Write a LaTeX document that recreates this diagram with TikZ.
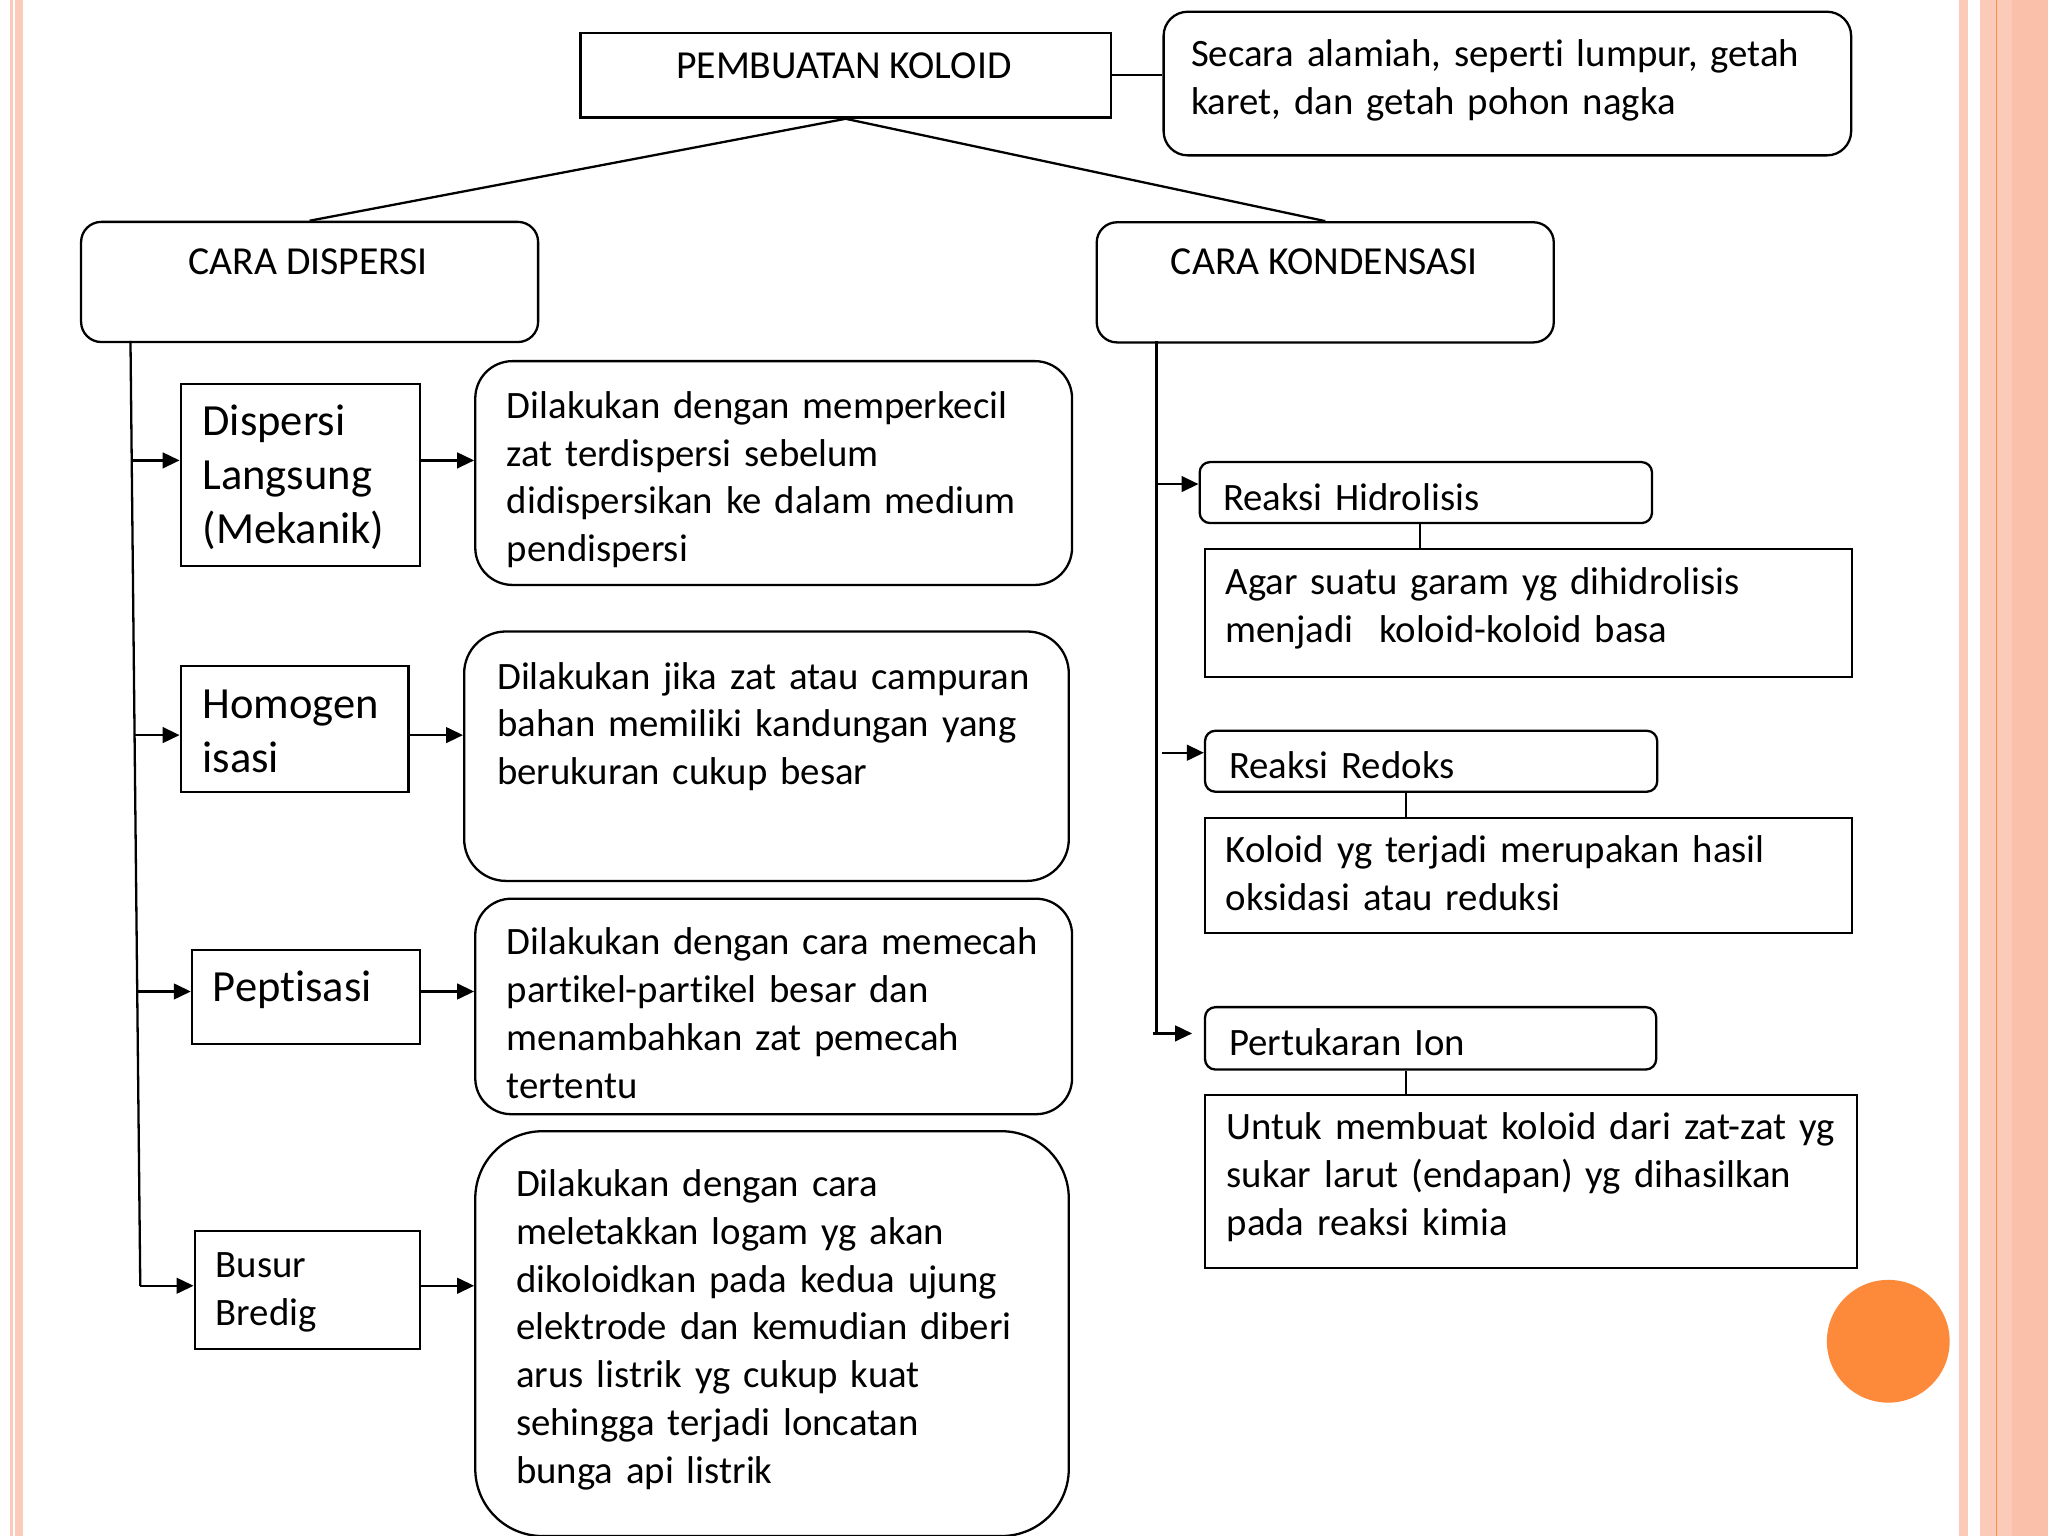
\documentclass[tikz,border=0pt]{standalone}
\usepackage{fontspec}
\setmainfont{Carlito}[Ligatures={NoCommon}]
\usetikzlibrary{arrows.meta}
\definecolor{salmon}{RGB}{252,202,184}
\definecolor{salmondark}{RGB}{250,192,170}
\definecolor{stripeline}{RGB}{245,145,70}
\definecolor{dot}{RGB}{252,138,58}
\tikzset{
	box/.style={draw, line width=1pt, inner sep=0pt, anchor=north west},
	rbox/.style={box, rounded corners=#1},
	txt/.style={anchor=base west, inner sep=0pt, align=left, text width=12cm, font=\fontsize{16.9pt}{20.8pt}\selectfont},
	bigtxt/.style={txt, font=\fontsize{19.4pt}{23.6pt}\selectfont},
	headtxt/.style={anchor=base, inner sep=0pt, font=\fontsize{17.3pt}{20.8pt}\selectfont},
	link/.style={line width=1pt},
	arr/.style={link, -{Triangle[length=0.26cm,width=0.24cm]}},
}
\begin{document}
\begin{tikzpicture}[x=0.02cm, y=-0.02cm]
	\useasboundingbox (0,0) rectangle (1568,1176);
	\fill[white] (0,0) rectangle (1568,1176);
	\fill[salmon] (7.5,0) rectangle (17.5,1176);
	\fill[white] (10,0) rectangle (11.2,1176);
	\fill[salmon] (1499.7,0) rectangle (1506.6,1176);
	\fill[salmon] (1516.2,0) rectangle (1568,1176);
	\fill[salmondark] (1540.5,0) rectangle (1568,1176);
	\fill[stripeline] (1527.8,0) rectangle (1529.2,1176);
	\fill[dot] (1445.7,1026.9) circle (47);

	\node[box, minimum width=8.12cm, minimum height=1.30cm] (title) at (443.6,24.2) {};
	\node[rbox=0.37cm, minimum width=10.53cm, minimum height=2.20cm] (alam) at (890,8.1) {};
	\node[rbox=0.31cm, minimum width=7.00cm, minimum height=1.84cm] (disp) at (61.2,169) {};
	\node[rbox=0.31cm, minimum width=7.00cm, minimum height=1.84cm] (kond) at (838.8,169.3) {};

	\node[box, minimum width=3.664cm, minimum height=2.788cm] (langsung) at (137.5,293.3) {};
	\node[rbox=0.57cm, minimum width=9.14cm, minimum height=3.428cm] (desc1) at (363,275.6) {};
	\node[box, minimum width=3.49cm, minimum height=1.934cm] (homogen) at (137.5,508.8) {};
	\node[rbox=0.64cm, minimum width=9.26cm, minimum height=3.82cm] (desc2) at (354.5,482.6) {};
	\node[box, minimum width=3.49cm, minimum height=1.438cm] (peptisasi) at (146.1,726.4) {};
	\node[rbox=0.55cm, minimum width=9.14cm, minimum height=3.30cm] (desc3) at (363,687.2) {};
	\node[box, minimum width=3.448cm, minimum height=1.804cm] (bredig) at (148.2,941.7) {};
	\node[rbox=1.03cm, minimum width=9.09cm, minimum height=6.20cm] (desc4) at (363,865.2) {};

	\node[rbox=0.16cm, minimum width=6.928cm, minimum height=0.934cm] (hidro) at (917.6,352.9) {};
	\node[box, minimum width=9.906cm, minimum height=1.954cm] (hidrodesc) at (921.7,419.5) {};
	\node[rbox=0.16cm, minimum width=6.926cm, minimum height=0.934cm] (redoks) at (921.7,558.6) {};
	\node[box, minimum width=9.906cm, minimum height=1.762cm] (redoksdesc) at (921.7,625.2) {};
	\node[rbox=0.16cm, minimum width=6.91cm, minimum height=0.956cm] (ion) at (921.7,770.2) {};
	\node[box, minimum width=9.988cm, minimum height=2.644cm] (iondesc) at (921.7,837.6) {};

	\node[headtxt] (titletxt) at (646,60.4) {PEMBUATAN KOLOID};
	\node[txt] (alamtxt) at (911.5,51) {Secara alamiah, seperti lumpur, getah\\karet, dan getah pohon nagka};
	\node[headtxt] (disptxt) at (236,210.5) {CARA DISPERSI};
	\node[headtxt] (kondtxt) at (1014,210.5) {CARA KONDENSASI};

	\node[bigtxt] (langsungtxt) at (154.7,333.5) {Dispersi\\Langsung\\(Mekanik)};
	\node[txt] (desc1txt) at (387.8,320.3) {Dilakukan dengan memperkecil\\zat terdispersi sebelum\\didispersikan ke dalam medium\\pendispersi};
	\node[bigtxt] (homogentxt) at (154.7,549.9) {Homogen\\isasi};
	\node[txt] (desc2txt) at (380.3,527.7) {Dilakukan jika zat atau campuran\\bahan memiliki kandungan yang\\berukuran cukup besar};
	\node[bigtxt] (peptisasitxt) at (162.7,767) {Peptisasi};
	\node[txt] (desc3txt) at (387.8,731.1) {Dilakukan dengan cara memecah\\partikel-partikel besar dan\\menambahkan zat pemecah\\tertentu};
	\node[txt] (bredigtxt) at (164.9,978.3) {Busur\\Bredig};
	\node[txt] (desc4txt) at (394.8,916.2) {Dilakukan dengan cara\\meletakkan logam yg akan\\dikoloidkan pada kedua ujung\\elektrode dan kemudian diberi\\arus listrik yg cukup kuat\\sehingga terjadi loncatan\\bunga api listrik};

	\node[txt] (hidrotxt) at (936,391) {Reaksi Hidrolisis};
	\node[txt] (hidrodesctxt) at (938,455.5) {Agar suatu garam yg dihidrolisis\\menjadi~ koloid-koloid basa};
	\node[txt] (redokstxt) at (940.6,596.2) {Reaksi Redoks};
	\node[txt] (redoksdesctxt) at (938,660.6) {Koloid yg terjadi merupakan hasil\\oksidasi atau reduksi};
	\node[txt] (iontxt) at (940.6,808.3) {Pertukaran Ion};
	\node[txt] (iondesctxt) at (938.8,872.8) {Untuk membuat koloid dari zat-zat yg\\sukar larut (endapan) yg dihasilkan\\pada reaksi kimia};

	\draw[link] (title.east) -- (alam.west |- title.east);
	\draw[link] (title.south) -- (disp.north);
	\draw[link] (title.south) -- (kond.north);

	\coordinate (ltop) at (99.9,261);
	\coordinate (lbot) at (107.4,984.4);
	\coordinate (l1) at (100.85,352.5);
	\coordinate (l2) at (103,562.8);
	\coordinate (l3) at (105.1,759.1);
	\draw[link] (ltop) -- (lbot);
	\draw[arr] (l1) -- (l1 -| langsung.west);
	\draw[arr] (l2) -- (l2 -| homogen.west);
	\draw[arr] (l3) -- (l3 -| peptisasi.west);
	\draw[arr] (lbot) -- (lbot -| bredig.west);
	\draw[arr] (langsung.east |- l1) -- (desc1.west |- l1);
	\draw[arr] (homogen.east |- l2) -- (desc2.west |- l2);
	\draw[arr] (peptisasi.east |- l3) -- (desc3.west |- l3);
	\draw[arr] (bredig.east |- lbot) -- (desc4.west |- lbot);

	\coordinate (rtop) at (885.4,261);
	\coordinate (rbot) at (885.4,791.2);
	\coordinate (r1) at (885.4,370.6);
	\coordinate (r2) at (890,576.3);
	\draw[link] (rtop) -- (rbot);
	\draw[arr] (r1) -- (r1 -| hidro.west);
	\draw[arr] (r2) -- (r2 -| redoks.west);
	\draw[arr, shorten >=0.18cm] ([xshift=-0.06cm]rbot) -- (rbot -| ion.west);
	\draw[link] (hidro.south -| 1087,0) -- (hidrodesc.north -| 1087,0);
	\draw[link] (redoks.south -| 1076.6,0) -- (redoksdesc.north -| 1076.6,0);
	\draw[link] (ion.south -| 1076.6,0) -- (iondesc.north -| 1076.6,0);
\end{tikzpicture}
\end{document}
